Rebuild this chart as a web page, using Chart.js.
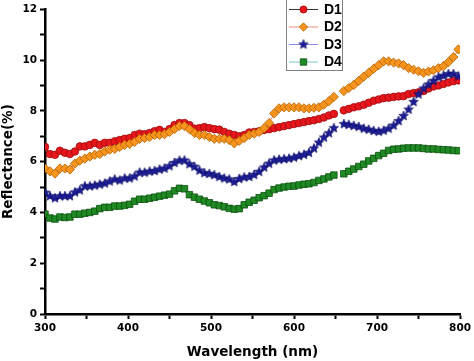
<!DOCTYPE html>
<html lang="en">
<head>
<meta charset="UTF-8">
<title>Reflectance</title>
<script src="https://cdn.jsdelivr.net/npm/chart.js"></script>
<style>
    body { margin: 0; background: #fff; }
    #wrap { width: 474px; height: 361px; }
</style>
</head>
<body>
<div id="wrap"><canvas id="reflChart" width="474" height="361"></canvas></div>
<script>
// wavelengths (nm), one sample every 6 nm; null = gap near 654 nm
const wavelengths = [300,306,312,318,324,330,336,342,348,354,360,366,372,378,384,390,396,402,408,414,
    420,426,432,438,444,450,456,462,468,474,480,486,492,498,504,510,516,522,528,534,
    540,546,552,558,564,570,576,582,588,594,600,606,612,618,624,630,636,642,648,654,
    660,666,672,678,684,690,696,702,708,714,720,726,732,738,744,750,756,762,768,774,
    780,786,792,798];

const d1 = [6.58,6.30,6.27,6.43,6.35,6.30,6.40,6.60,6.60,6.66,6.74,6.66,6.74,6.74,6.80,6.85,6.90,6.93,7.05,7.10,
    7.08,7.13,7.20,7.25,7.17,7.28,7.44,7.52,7.52,7.44,7.30,7.32,7.36,7.32,7.28,7.26,7.17,7.10,7.05,7.00,
    7.05,7.15,7.17,7.20,7.25,7.28,7.32,7.36,7.40,7.44,7.48,7.52,7.56,7.60,7.63,7.68,7.74,7.82,7.88,null,
    8.02,8.08,8.14,8.18,8.24,8.32,8.40,8.45,8.50,8.52,8.55,8.57,8.58,8.66,8.70,8.73,8.78,8.88,8.96,9.00,
    9.06,9.12,9.17,9.20];

const d2 = [5.73,5.62,5.53,5.73,5.73,5.69,5.92,6.04,6.12,6.20,6.27,6.30,6.40,6.47,6.50,6.58,6.66,6.70,6.78,6.90,
    6.93,6.97,7.05,7.05,7.08,7.17,7.28,7.40,7.40,7.28,7.13,7.05,7.05,6.97,6.90,6.90,6.90,6.85,6.72,6.82,
    6.93,7.05,7.10,7.17,7.32,7.52,7.90,8.10,8.14,8.14,8.14,8.14,8.10,8.10,8.12,8.14,8.24,8.38,8.55,null,
    8.78,8.90,9.02,9.18,9.35,9.50,9.66,9.80,9.95,9.95,9.90,9.87,9.80,9.68,9.62,9.56,9.50,9.55,9.60,9.68,
    9.76,9.92,10.12,10.42];

const d3 = [4.78,4.64,4.56,4.64,4.64,4.64,4.79,4.87,5.03,5.03,5.06,5.10,5.14,5.22,5.30,5.26,5.34,5.34,5.42,5.57,
    5.57,5.61,5.63,5.69,5.73,5.82,5.95,6.04,6.05,5.90,5.80,5.65,5.55,5.52,5.47,5.40,5.34,5.30,5.20,5.32,
    5.38,5.40,5.48,5.60,5.77,5.92,6.05,6.08,6.10,6.12,6.16,6.22,6.27,6.35,6.52,6.75,6.95,7.12,7.32,null,
    7.48,7.45,7.41,7.37,7.30,7.26,7.21,7.18,7.22,7.30,7.42,7.60,7.80,8.05,8.35,8.65,8.88,9.04,9.18,9.32,
    9.38,9.45,9.45,9.36];

const d4 = [3.93,3.78,3.74,3.82,3.80,3.82,3.93,3.93,3.97,4.00,4.05,4.15,4.20,4.20,4.25,4.25,4.28,4.32,4.44,4.52,
    4.52,4.56,4.60,4.64,4.68,4.72,4.85,4.95,4.93,4.70,4.60,4.52,4.45,4.38,4.30,4.27,4.22,4.16,4.13,4.15,
    4.30,4.40,4.48,4.58,4.66,4.76,4.90,4.96,5.00,5.03,5.04,5.08,5.11,5.13,5.18,5.26,5.32,5.40,5.47,null,
    5.52,5.62,5.71,5.81,5.90,6.03,6.13,6.24,6.33,6.44,6.49,6.50,6.53,6.54,6.54,6.54,6.52,6.50,6.50,6.48,
    6.47,6.46,6.44,6.43];

const seriesNames = ['D1', 'D2', 'D3', 'D4'];

// filled 5-point star marker (Chart.js 'star' is only an asterisk)
function makeStar(r, fill, stroke) {
    const c = document.createElement('canvas');
    const s = Math.ceil(r * 2 + 2);
    c.width = s; c.height = s;
    const g = c.getContext('2d');
    g.beginPath();
    for (let i = 0; i < 10; i++) {
        const rr = i % 2 === 0 ? r : r * 0.45;
        const a = -Math.PI / 2 + i * Math.PI / 5;
        const px = s / 2 + rr * Math.cos(a), py = s / 2 + rr * Math.sin(a);
        if (i === 0) g.moveTo(px, py); else g.lineTo(px, py);
    }
    g.closePath();
    g.fillStyle = fill;
    g.fill();
    g.strokeStyle = stroke;
    g.lineWidth = 0.6;
    g.stroke();
    return c;
}
const starImg = makeStar(5, '#1c1c96', '#0a0a60');

function pts(arr) {
    return wavelengths.map((w, i) => ({ x: w, y: arr[i] }));
}

const styles = [
    { line: '#333333', fill: '#e8151b', border: '#9a0d10', style: 'circle', radius: 3.8, order: 3 },
    { line: '#f08a80', fill: '#f7941d', border: '#b35f00', style: 'rectRot', radius: 4.6, order: 2 },
    { line: '#8c8cf0', fill: '#1c1c96', border: '#0a0a60', style: starImg, radius: 5, order: 1 },
    { line: '#7cc8cc', fill: '#1f8a23', border: '#0d4f10', style: 'rect', radius: 4.6, order: 0 }
];

const datasets = [d1, d2, d3, d4].map((arr, i) => ({
    label: seriesNames[i],
    data: pts(arr),
    borderColor: styles[i].line,
    borderWidth: 1,
    backgroundColor: styles[i].fill,
    pointBackgroundColor: styles[i].fill,
    pointBorderColor: styles[i].border,
    pointBorderWidth: 0.8,
    pointStyle: styles[i].style,
    pointRadius: styles[i].radius,
    spanGaps: false,
    order: styles[i].order
}));

// legend box in the upper middle, drawn like the original
const legendBox = {
    id: 'legendBox',
    afterDraw(chart) {
        const ctx = chart.ctx;
        ctx.save();
        ctx.fillStyle = '#fff';
        ctx.fillRect(286, -2, 56, 73);
        ctx.strokeStyle = '#808080';
        ctx.lineWidth = 1;
        ctx.strokeRect(286.5, -1.5, 56, 72);
        seriesNames.forEach((name, i) => {
            const y = 9.5 + i * 17.5;
            const st = styles[i];
            ctx.strokeStyle = st.line;
            ctx.lineWidth = 1;
            ctx.beginPath();
            ctx.moveTo(289, y);
            ctx.lineTo(318, y);
            ctx.stroke();
            const cx = 303.5;
            ctx.fillStyle = st.fill;
            ctx.strokeStyle = st.border;
            ctx.lineWidth = 0.8;
            ctx.beginPath();
            if (i === 0) {
                ctx.arc(cx, y, 3.6, 0, Math.PI * 2);
                ctx.fill(); ctx.stroke();
            } else if (i === 1) {
                ctx.moveTo(cx, y - 4.2); ctx.lineTo(cx + 4.2, y); ctx.lineTo(cx, y + 4.2); ctx.lineTo(cx - 4.2, y);
                ctx.closePath(); ctx.fill(); ctx.stroke();
            } else if (i === 2) {
                ctx.drawImage(starImg, cx - starImg.width / 2, y - starImg.height / 2);
            } else {
                ctx.rect(cx - 3.2, y - 3.2, 6.4, 6.4);
                ctx.fill(); ctx.stroke();
            }
            ctx.fillStyle = '#000';
            ctx.font = 'bold 14px "Liberation Sans", Arial, sans-serif';
            ctx.textBaseline = 'middle';
            ctx.textAlign = 'left';
            ctx.fillText(name, 324, y + 0.5);
        });
        ctx.restore();
    }
};

const tickFont = { family: '"DejaVu Sans", Verdana, sans-serif', size: 10.5, weight: 'bold' };
const titleFont = { family: '"DejaVu Sans", Verdana, sans-serif', size: 13.5, weight: 'bold' };

new Chart(document.getElementById('reflChart').getContext('2d'), {
    type: 'line',
    data: { datasets: datasets },
    options: {
        responsive: false,
        animation: false,
        events: [],
        layout: { padding: { top: 6, right: 12, left: 0, bottom: 0 } },
        plugins: { legend: { display: false }, tooltip: { enabled: false } },
        scales: {
            x: {
                type: 'linear',
                min: 300,
                max: 800,
                afterFit(scale) { scale.height = 47; },
                border: { color: '#000', width: 2.5 },
                grid: { drawOnChartArea: false, drawTicks: true, tickLength: 5, tickColor: '#000', tickWidth: 2 },
                ticks: {
                    stepSize: 50,
                    autoSkip: false,
                    maxRotation: 0,
                    color: '#000',
                    font: tickFont,
                    padding: 3,
                    callback: v => (v % 100 === 0 ? v : '')
                },
                title: { display: true, text: 'Wavelength (nm)', color: '#000', font: titleFont, padding: { top: 4, bottom: 0 } }
            },
            y: {
                min: 0,
                max: 12,
                afterFit(scale) { scale.width = 45; },
                border: { color: '#000', width: 2.5 },
                grid: { drawOnChartArea: false, drawTicks: true, tickLength: 5, tickColor: '#000', tickWidth: 2 },
                ticks: {
                    stepSize: 1,
                    autoSkip: false,
                    color: '#000',
                    font: tickFont,
                    padding: 3,
                    callback: v => (v % 2 === 0 ? v : '')
                },
                title: { display: true, text: 'Reflectance(%)', color: '#000', font: titleFont, padding: 0 }
            }
        }
    },
    plugins: [legendBox]
});
</script>
</body>
</html>
